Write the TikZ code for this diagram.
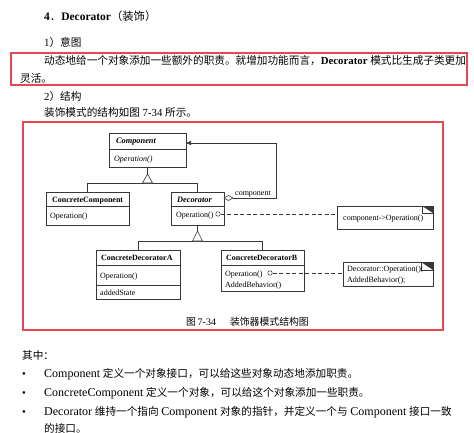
\documentclass[tikz,border=0pt]{standalone}
\usepackage{fontspec}
\setmainfont{Liberation Serif}
\newfontfamily\cjk{Noto Sans CJK SC}[Scale=0.985]
\usetikzlibrary{arrows.meta,calc}
\definecolor{redbox}{RGB}{232,70,80}
\definecolor{umlline}{RGB}{55,55,55}
\newcommand\bigLat[1]{{\fontsize{12}{14}\selectfont #1}}
\begin{document}
\begin{tikzpicture}[x=1pt,y=-1pt,
  cls/.style={draw=umlline, line width=0.6pt, anchor=north west, inner sep=0, outer sep=0},
  dtxt/.style={anchor=base west, inner sep=0, font=\fontsize{8}{9.6}\selectfont},
  dbold/.style={dtxt, font=\fontsize{8}{9.6}\selectfont\bfseries},
  dboldit/.style={dtxt, font=\fontsize{8.3}{9.6}\selectfont\bfseries\itshape},
  dit/.style={dtxt, font=\fontsize{8}{9.6}\selectfont\itshape},
  btxt/.style={anchor=base west, inner sep=0, font=\fontsize{10.8}{13}\selectfont},
  redframe/.style={draw=redbox, line width=1.3pt},
  conn/.style={draw=umlline, line width=0.6pt},
  dashconn/.style={conn, dash pattern=on 4pt off 2.5pt},
  ocirc/.style={circle, draw=umlline, line width=0.5pt, minimum size=4.5pt, inner sep=0, fill=white},
]
\useasboundingbox (0,0) rectangle (474,433);
\fill[white] (0,0) rectangle (474,433);

% ---- top text ----
\node[btxt, font=\fontsize{11.5}{13}\selectfont] (title) at (44,21) {\textbf{4}{\cjk ．}\textbf{Decorator}{\cjk （装饰）}};
\node[btxt] (s1) at (44,47) {1{\cjk ）意图}};
\node[btxt] (l1) at (44,65) {{\cjk 动态地给一个对象添加一些额外的职责。就增加功能而言，}\textbf{Decorator} {\cjk 模式比生成子类更加}};
\node[btxt] (l2) at (20,83) {{\cjk 灵活。}};
\node[btxt] (s2) at (44,101) {2{\cjk ）结构}};
\node[btxt] (l3) at (44,117) {{\cjk 装饰模式的结构如图} 7-34 {\cjk 所示。}};

\draw[redframe] (11,53) rectangle (467,85);
\draw[redframe] (23,122) rectangle (443,330);

% ---- classes ----
\node[cls, minimum width=77, minimum height=34] (comp) at (109,133) {};
\draw[conn] ($(comp.north west)+(0,16)$) -- ($(comp.north east)+(0,16)$);
\node[dboldit] (compT) at (116,144) {Component};
\node[dit] (compO) at (114,161) {Operation()};

\node[cls, minimum width=83, minimum height=33] (cc) at (46,192) {};
\draw[conn] ($(cc.north west)+(0,14)$) -- ($(cc.north east)+(0,14)$);
\node[dbold] (ccT) at (52,202) {ConcreteComponent};
\node[dtxt] (ccO) at (50,218.5) {Operation()};

\node[cls, minimum width=53, minimum height=33] (dec) at (171,192) {};
\draw[conn] ($(dec.north west)+(0,14)$) -- ($(dec.north east)+(0,14)$);
\node[dboldit] (decT) at (177,202) {Decorator};
\node[dtxt] (decO) at (176,217) {Operation()};

\node[cls, minimum width=84, minimum height=49] (cda) at (96,250) {};
\draw[conn] ($(cda.north west)+(0,15)$) -- ($(cda.north east)+(0,15)$);
\draw[conn] ($(cda.north west)+(0,35)$) -- ($(cda.north east)+(0,35)$);
\node[dbold] (cdaT) at (101,260.5) {ConcreteDecoratorA};
\node[dtxt] (cdaO) at (100,278) {Operation()};
\node[dtxt] (cdaS) at (100,295) {addedState};

\node[cls, minimum width=83, minimum height=41] (cdb) at (221,250) {};
\draw[conn] ($(cdb.north west)+(0,15)$) -- ($(cdb.north east)+(0,15)$);
\node[dbold] (cdbT) at (226,260.5) {ConcreteDecoratorB};
\node[dtxt] (cdbO) at (225,276) {Operation()};
\node[dtxt] (cdbA) at (225,287) {AddedBehavior()};

% ---- notes ----
\node[cls, minimum width=96, minimum height=23] (n1) at (337,206) {};
\fill[umlline] ($(n1.north east)+(-11,0)$) -- (n1.north east) -- ($(n1.north east)+(0,7)$) -- cycle;
\draw[conn] ($(n1.north east)+(-11,0)$) -- ++(0,7) -- ++(11,0);
\node[dtxt] (n1t) at (343,220.5) {component->Operation()};

\node[cls, minimum width=90, minimum height=24] (n2) at (343,262) {};
\fill[umlline] ($(n2.north east)+(-12,0)$) -- (n2.north east) -- ($(n2.north east)+(0,8)$) -- cycle;
\draw[conn] ($(n2.north east)+(-12,0)$) -- ++(0,8) -- ++(12,0);
\node[dtxt] (n2a) at (347,271.5) {Decorator::Operation();};
\node[dtxt] (n2b) at (347,282.5) {AddedBehavior();};

% ---- inheritance ----
\draw[conn] (cc.north) -- ++(0,-9) -| (dec.north);
\draw[conn] (comp.south) -- ++(0,7) coordinate (ap1);
\draw[conn, fill=white] (ap1) -- ++(-5,9) -- ++(10,0) -- cycle;

\draw[conn] (cda.north) -- ++(0,-9) -| (cdb.north);
\draw[conn] (dec.south) -- ++(0,6) coordinate (ap2);
\draw[conn, fill=white] (ap2) -- ++(-5,10) -- ++(10,0) -- cycle;

% ---- aggregation ----
\coordinate (agg) at ($(dec.north east)+(0,6)$);
\draw[conn, -{Triangle[length=5pt,width=4pt]}] ($(agg)+(9,0)$) -- ++(43,0) |- ($(comp.north east)+(0,10)$);
\draw[conn, fill=white] (agg) -- ++(4.5,-2.5) -- ++(4.5,2.5) -- ++(-4.5,2.5) -- cycle;
\node[dtxt] (complbl) at (235,195) {component};

% ---- note links ----
\node[ocirc] (c1) at (218,214) {};
\draw[dashconn] (c1.east) -- (c1.east -| n1.west);
\node[ocirc] (c2) at (270,273) {};
\draw[dashconn] (c2.east) -- (c2.east -| n2.west);

% ---- caption ----
\node[btxt, font=\fontsize{10}{12}\selectfont] (cap) at (186,325) {{\cjk 图}\,7-34\hspace{14pt}{\cjk 装饰器模式结构图}};

% ---- bottom text ----
\node[btxt] (qz) at (22,359) {{\cjk 其中：}};
\node[btxt] (b1) at (22,377) {•};
\node[btxt] (t1) at (44,377) {\bigLat{Component} {\cjk 定义一个对象接口，可以给这些对象动态地添加职责。}};
\node[btxt] (b2) at (22,396) {•};
\node[btxt] (t2) at (44,396) {\bigLat{ConcreteComponent} {\cjk 定义一个对象，可以给这个对象添加一些职责。}};
\node[btxt] (b3) at (22,415) {•};
\node[btxt] (t3) at (44,415) {\bigLat{Decorator} {\cjk 维持一个指向} \bigLat{Component} {\cjk 对象的指针，并定义一个与} \bigLat{Component} {\cjk 接口一致}};
\node[btxt] (t4) at (44,432) {{\cjk 的接口。}};
\end{tikzpicture}
\end{document}
